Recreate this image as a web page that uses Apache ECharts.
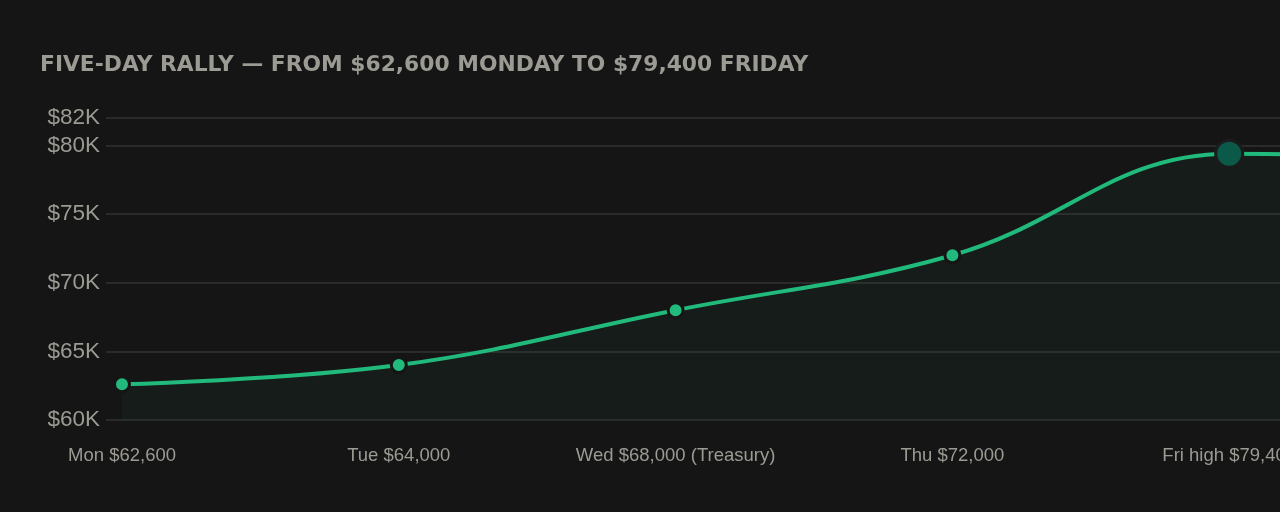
<!DOCTYPE html>
<html>
<head>
<meta charset="utf-8">
<script src="https://cdn.jsdelivr.net/npm/echarts@6/dist/echarts.min.js"></script>
<style>
    html, body { margin: 0; padding: 0; background: #151515; overflow: hidden; }
    #main { width: 1560px; height: 512px; }
</style>
</head>
<body>
<div id="main"></div>
<script>
// days along the rally, last one runs off the right edge
var days = ["Mon $62,600", "Tue $64,000", "Wed $68,000 (Treasury)", "Thu $72,000", "Fri high $79,400", "Fri close $78,800"];
var prices = [62600, 64000, 68000, 72000, 79400, 78800];
var highIndex = 4;
var yTicks = [60000, 65000, 70000, 75000, 80000, 82000];

var green = "#21b97c";
var grey = "#9b9a93";
var lines = "#2a2a2a";

var points = prices.map(function (v, i) {
    if (i == highIndex) {
        return {
            value: v,
            symbolSize: 27,
            itemStyle: { color: "#0b5a49", borderColor: "#1b1b1b", borderWidth: 3 }
        };
    }
    return v;
});

var myChart = echarts.init(document.getElementById("main"));
var option = {
    backgroundColor: "#151515",
    animation: false,
    title: {
        text: "FIVE-DAY RALLY — FROM $62,600 MONDAY TO $79,400 FRIDAY",
        left: 35,
        top: 49,
        textStyle: {
            color: grey,
            fontFamily: "DejaVu Sans",
            fontWeight: 700,
            fontSize: 21.8
        }
    },
    grid: {
        left: 122,
        right: 54,
        top: 118,
        bottom: 92,
        outerBoundsMode: "none"
    },
    xAxis: {
        type: "category",
        data: days,
        boundaryGap: false,
        axisLine: { show: false },
        axisTick: { show: false },
        axisLabel: {
            color: grey,
            fontFamily: "Liberation Sans",
            fontSize: 18.5,
            margin: 26,
            interval: 0
        }
    },
    yAxis: {
        type: "value",
        min: yTicks[0],
        max: yTicks[yTicks.length - 1],
        interval: 5000,
        axisLine: { show: false },
        axisTick: { show: true, length: 16, lineStyle: { color: lines, width: 2 } },
        splitLine: { lineStyle: { color: lines, width: 2 } },
        axisLabel: {
            color: grey,
            fontFamily: "Liberation Sans",
            fontSize: 22.5,
            margin: 22,
            formatter: function (v) {
                return "$" + Math.round(v / 1000) + "K";
            }
        }
    },
    series: [{
        type: "line",
        data: points,
        smooth: 0.4,
        symbol: "circle",
        symbolSize: 15,
        showAllSymbol: true,
        lineStyle: { color: green, width: 4 },
        itemStyle: { color: green, borderColor: "#151515", borderWidth: 3 },
        areaStyle: { color: "rgba(33,185,124,0.07)" }
    }]
};
myChart.setOption(option);
</script>
</body>
</html>
